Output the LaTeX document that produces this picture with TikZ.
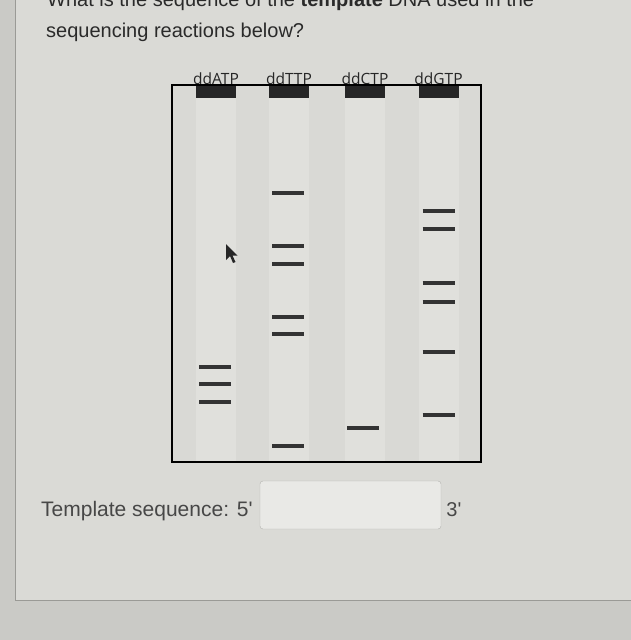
\documentclass[tikz,border=0pt]{standalone}
\usepackage{fontspec}
\setmainfont{Liberation Sans}[Ligatures=TeXOff]
\newfontfamily\gelfont{Open Sans}
\usetikzlibrary{positioning}
\definecolor{pagebg}{HTML}{CACAC6}
\definecolor{panelbg}{HTML}{DADAD6}
\definecolor{panelline}{HTML}{9A9A96}
\definecolor{gelbg}{HTML}{D9D9D5}
\definecolor{lanebg}{HTML}{E0E0DC}
\definecolor{inkgray}{HTML}{2A2A2A}
\definecolor{boxline}{HTML}{B4B4B0}

\begin{document}
\begin{tikzpicture}[
        x=1pt,y=-1pt,
        pagetext/.style={font=\fontsize{20}{20}\selectfont,text=inkgray,inner sep=0pt,anchor=base west},
        wellbox/.style={fill=black!85,minimum width=40pt,minimum height=14pt,inner sep=0pt,anchor=north},
        lanelabel/.style={font=\gelfont\fontsize{15.5}{15.5}\selectfont,text=black!85,inner sep=0pt,anchor=base},
        band/.style={line width=4pt,draw=black!80},
        seqbox/.style={draw=boxline,fill=panelbg!60!white,rounded corners=3pt,
                       minimum width=181pt,minimum height=48pt,inner sep=0pt},
      ]
      \useasboundingbox (0,0) rectangle (631,640);
      \clip (0,0) rectangle (631,640);
      \fill[pagebg] (0,0) rectangle (631,640);
      % Question panel
      \fill[panelbg] (15,-5) rectangle (640,600);
      \draw[panelline,line width=1pt] (15,-5) -- (15,600) -- (640,600);
      \node[pagetext] (qtop) at (47,6) {What is the sequence of the \textbf{template} DNA used in the};
      \node[pagetext] (qbot) at (46,37) {sequencing reactions below?};
      % Gel
      \fill[gelbg] (172,85) rectangle (481,462);
      \foreach \nm/\cx/\lbl in {A/216/ddATP,T/289/ddTTP,C/365/ddCTP,G/438.5/ddGTP}{
        \fill[lanebg] (\cx-20,98) rectangle (\cx+20,461);
        \node[wellbox] (well\nm) at (\cx,84) {};
        \node[lanelabel] (lbl\nm) at (well\nm.north) {\lbl};
      }
      \draw[black,line width=1.3pt] (172,85) rectangle (481,462);
      % Bands
      \foreach \cx/\ys in {215/{367,384,402},288/{193,246,264,317,334,446},
                           363/{428},438.5/{211,229,283,302,352,415}}{
        \foreach \y in \ys
          \draw[band] (\cx-16,\y) -- (\cx+16,\y);
      }
      % Mouse pointer
      \fill[black!85] (226,244) -- (226,260) -- (230,256) -- (233,263)
        -- (235.5,262) -- (232.5,255.5) -- (237.5,255.5) -- cycle;
      % Answer line
      \node[pagetext,text=black!72,font=\fontsize{21}{21}\selectfont] (tmpl) at (41,516) {Template sequence: 5'};
      \node[seqbox] (answer) at (350.5,505) {};
      \node[pagetext,text=black!72,xshift=5pt] (three) at (answer.east |- tmpl.base) {3'};
    \end{tikzpicture}
\end{document}
